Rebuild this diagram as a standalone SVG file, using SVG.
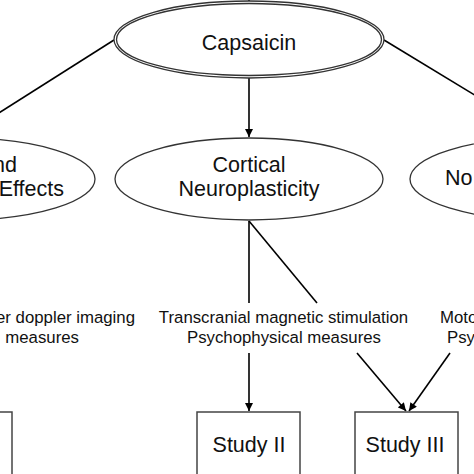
<svg xmlns="http://www.w3.org/2000/svg" width="474" height="474" viewBox="0 0 474 474">
<style>
.ell{fill:#fff;stroke:#333;stroke-width:1.3}
.box{fill:#fff;stroke:#444;stroke-width:1.5}
.big{font-family:"Liberation Sans",Arial,sans-serif;font-size:21.5px;fill:#111}
.sm{font-family:"Liberation Sans",Arial,sans-serif;font-size:16.8px;fill:#111}
.ln{stroke:#000;stroke-width:1.6;fill:none}
</style>
<defs>
<marker id="ah" viewBox="0 0 10 10" refX="10" refY="5" markerWidth="9" markerHeight="8" markerUnits="userSpaceOnUse" orient="auto">
<path d="M0,0 L10,5 L0,10 z" fill="#000"/>
</marker>
</defs>
<rect width="474" height="474" fill="#fff"/>
<g id="connectors">
<line class="ln" x1="249" y1="0" x2="249" y2="2"/>
<line class="ln" x1="114" y1="40" x2="-39" y2="137" marker-end="url(#ah)"/>
<line class="ln" x1="384" y1="40" x2="544" y2="137" marker-end="url(#ah)"/>
<line class="ln" x1="249" y1="78" x2="249" y2="137" marker-end="url(#ah)"/>
<line class="ln" x1="249" y1="221" x2="249" y2="303"/>
<line class="ln" x1="249" y1="221" x2="317" y2="303"/>
<line class="ln" x1="249" y1="353" x2="249" y2="411" marker-end="url(#ah)"/>
<line class="ln" x1="357" y1="353" x2="406" y2="411" marker-end="url(#ah)"/>
<line class="ln" x1="450" y1="353" x2="409" y2="411" marker-end="url(#ah)"/>
</g>
<g id="capsaicin">
<ellipse class="ell" cx="249" cy="39.5" rx="135" ry="38.5"/>
<ellipse class="ell" cx="249" cy="39.5" rx="132.5" ry="36"/>
<text class="big" x="249" y="50" text-anchor="middle">Capsaicin</text>
</g>
<g id="left-ellipse">
<ellipse class="ell" cx="-39" cy="179" rx="134" ry="41"/>
<text class="big" x="17" y="172" text-anchor="end">nd</text>
<text class="big" x="64" y="196" text-anchor="end">Effects</text>
</g>
<g id="cortical">
<ellipse class="ell" cx="249" cy="179" rx="134" ry="41"/>
<text class="big" x="249" y="172" text-anchor="middle">Cortical</text>
<text class="big" x="249" y="196" text-anchor="middle">Neuroplasticity</text>
</g>
<g id="right-ellipse">
<ellipse class="ell" cx="544" cy="179" rx="134" ry="41"/>
<text class="big" x="445" y="185">No</text>
</g>
<g id="left-measures">
<text class="sm" x="135" y="323" text-anchor="end">er doppler imaging</text>
<text class="sm" x="79" y="343" text-anchor="end">measures</text>
</g>
<g id="center-measures">
<text class="sm" x="283.5" y="323" text-anchor="middle">Transcranial magnetic stimulation</text>
<text class="sm" x="284" y="343" text-anchor="middle">Psychophysical measures</text>
</g>
<g id="right-measures">
<text class="sm" x="440" y="323">Moto</text>
<text class="sm" x="447" y="343">Psy</text>
</g>
<g id="study-left">
<rect class="box" x="-91" y="412" width="103" height="80"/>
</g>
<g id="study-2">
<rect class="box" x="197" y="412" width="103" height="80"/>
<text class="big" x="249" y="452" text-anchor="middle">Study II</text>
</g>
<g id="study-3">
<rect class="box" x="355" y="412" width="103" height="80"/>
<text class="big" x="405" y="452" text-anchor="middle">Study III</text>
</g>
</svg>
